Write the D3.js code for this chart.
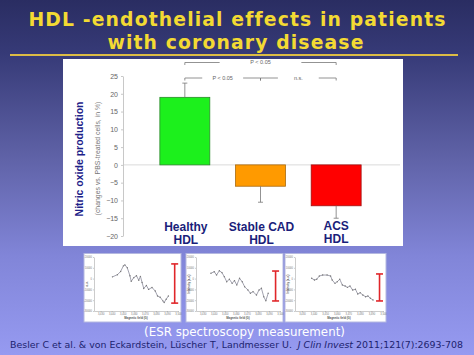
<!DOCTYPE html>
<html><head><meta charset="utf-8">
<script src="https://cdn.jsdelivr.net/npm/d3@7"></script>
<style>html,body{margin:0;padding:0;overflow:hidden;background:#3a3d7a}svg{display:block}</style>
</head><body>
<svg id="c" width="474" height="355"></svg>
<script>
// ---------- data ----------
const titleLines = ["HDL -endothelial effects in patients", "with coronary disease"];
const categories = ["Healthy HDL", "Stable CAD HDL", "ACS HDL"];
const categoryLines = [["Healthy", "HDL"], ["Stable CAD", "HDL"], ["ACS", "HDL"]];
const noProduction = [19, -6, -11.5];          // mean change vs PBS (%)
const noErrorEnd = [23, -10.5, -15];           // end of error bar
const yTicks = [25, 20, 15, 10, 5, 0, -5, -10, -15, -20];
const compFrom = [0, 0, 1];
const compTo = [2, 1, 2];
const compLabel = ["P < 0.05", "P < 0.05", "n.s."];
const compLevel = [1, 0, 0];
const yTitle = "Nitric oxide production";
const ySubTitle = "(changes vs. PBS-treated cells, in %)";

// ESR spectroscopy thumbnails (field in G, signal in thousands a.u.)
const esrField = [
  [3440.7,3445.2,3448.1,3450.6,3452,3454.1,3456.5,3457.7,3460,3462.4,3464.5,3466,3467.5,3469,3471.4,3473.4,3476.5,3479.4,3481.5,3483.9,3486.3,3487.5,3489.3,3491.3],
  [3437.5,3440.5,3442.6,3445.1,3447.5,3449.6,3451.8,3454.2,3456.7,3458.8,3460.9,3463.4,3465.8,3468,3471,3473.2,3475.6,3478.7,3481,3483.2,3485.3,3487.2,3489.3],
  [3438.4,3440.8,3442.8,3445,3447.9,3451.7,3454.7,3456.1,3458.5,3460.5,3462.6,3464.9,3467.3,3469.3,3471.5,3473.8,3476.2,3478.2,3480.3,3482.6,3485,3487,3489.1,3491.4]
];
const esrSignal = [
  [1.6,3.6,6.6,11.8,12.7,10.0,2.7,-2.5,0.9,2.7,-1.5,2.1,-3.6,-9.1,-6.4,-10.0,-8.2,-11.5,-16.1,-17.3,-20.6,-22.1,-19.1,-16.1],
  [4.9,6.4,3.3,7.3,5.5,1.8,-2.9,-0.6,-4.4,-1.9,-5.9,0.3,-2.9,-7.5,-10.6,-13.6,-12.1,-15.2,-10.6,-9.0,-16.8,-20.5,-13.6],
  [0.3,-1.3,-0.6,2.4,3.3,3.3,2.4,-1.3,-4.4,-2.9,-0.6,-5.9,-6.9,-8.1,-6.9,-10.6,-9.9,-14.3,-13.1,-15.2,-16.8,-16.1,-18.2,-19.8]
];
const esrAmpTop = [13.6, 7.0, 4.3];
const esrAmpBottom = [-22.7, -20.7, -20.7];
const esrAmpField = [3497, 3496, 3497];
const esrXTicks = [3430, 3440, 3450, 3460, 3470, 3480, 3490, 3500];
const esrYTicks = [20, 10, 0, -10, -20, -30];
const esrYLabel = ["a.u.", "Intensity (a.u.)", "Intensity (a.u.)"];
const esrXLabel = "Magnetic field (G)";
const caption = "(ESR spectroscopy measurement)";
const citeParts = [["Besler C et al. & von Eckardstein, Lüscher T, Landmesser U.  ", "normal"], ["J Clin Invest", "italic"], [" 2011;121(7):2693-708", "normal"]];

// ---------- drawing ----------
const svg = d3.select("#c");
const W = 474, H = 355;
const defs = svg.append("defs");
const bg = defs.append("linearGradient").attr("id", "bg").attr("x1", 0).attr("y1", 0).attr("x2", 0).attr("y2", 1);
[[0, "#2a2d62"], [0.15, "#363a77"], [0.45, "#6063a8"], [0.72, "#8185d8"], [1, "#969af1"]]
  .forEach(s => bg.append("stop").attr("offset", s[0]).attr("stop-color", s[1]));
svg.append("rect").attr("width", W).attr("height", H).attr("fill", "url(#bg)");

function fit(sel, target, base) {
  sel.style("font-size", base + "px");
  const w = sel.node().getComputedTextLength();
  const s = base * target / w;
  sel.style("font-size", s + "px");
  return s;
}

// title (slightly smaller font, letter-spaced to keep the reference width)
const titleSize = 18.8;
const t1 = svg.append("text").attr("x", 237.5).attr("y", 26.3).attr("text-anchor", "middle")
  .attr("fill", "#f3da33").style("font-family", "'DejaVu Sans', Verdana, sans-serif").style("font-weight", "bold")
  .style("font-size", titleSize + "px").text(titleLines[0]);
const n1 = titleLines[0].length;
const ls = (417 - t1.node().getComputedTextLength()) / n1;
t1.style("letter-spacing", ls + "px");
svg.append("text").attr("x", 236).attr("y", 48.6).attr("text-anchor", "middle")
  .attr("fill", "#f3da33").style("font-family", "'DejaVu Sans', Verdana, sans-serif").style("font-weight", "bold")
  .style("font-size", titleSize + "px").style("letter-spacing", ls + "px").text(titleLines[1]);
svg.append("line").attr("x1", 10).attr("x2", 458).attr("y1", 55).attr("y2", 55)
  .attr("stroke", "#dcbc45").attr("stroke-width", 2);

// main panel
svg.append("rect").attr("x", 63).attr("y", 59).attr("width", 340).attr("height", 187).attr("fill", "#fff");

const y = d3.scaleLinear().domain([-20, 25]).range([236, 76]);
const x = d3.scaleBand().domain(categories).range([147, 374]).paddingInner(0.34).paddingOuter(0.17);

// zero line
svg.append("line").attr("x1", 123).attr("x2", 400).attr("y1", y(0)).attr("y2", y(0))
  .attr("stroke", "#d0d0d0").attr("stroke-width", 0.8);

const yAxis = svg.append("g").attr("transform", "translate(123,0)")
  .call(d3.axisLeft(y).tickValues(yTicks).tickSize(2).tickSizeOuter(0).tickPadding(3));
yAxis.select(".domain").attr("stroke", "#c8c8c8");
yAxis.selectAll(".tick line").attr("stroke", "#c8c8c8");
yAxis.selectAll("text").attr("fill", "#666").style("font-family", "'Liberation Sans', Arial, sans-serif").style("font-size", "7px");

// y titles
svg.append("text").attr("transform", "translate(83,159) rotate(-90)").attr("text-anchor", "middle")
  .attr("fill", "#1c2188").style("font-family", "'Liberation Sans', Arial, sans-serif").style("font-weight", "bold")
  .style("font-size", "10.5px").text(yTitle);
svg.append("text").attr("transform", "translate(100,158.5) rotate(-90)").attr("text-anchor", "middle")
  .attr("fill", "#777").style("font-family", "'Liberation Sans', Arial, sans-serif")
  .style("font-size", "6.9px").text(ySubTitle);

// bars
const barFill = ["#1cf01c", "#ff9a00", "#ff0000"];
const barStroke = ["#2a8a2a", "#a86a10", "#a01010"];
const cx = i => x(categories[i]) + x.bandwidth() / 2;
svg.append("g").selectAll("rect").data(noProduction).join("rect")
  .attr("x", (d, i) => x(categories[i]))
  .attr("width", x.bandwidth())
  .attr("y", d => y(Math.max(0, d)))
  .attr("height", d => Math.abs(y(d) - y(0)))
  .attr("fill", (d, i) => barFill[i])
  .attr("stroke", (d, i) => barStroke[i]).attr("stroke-width", 0.8);

// error bars
const eg = svg.append("g").attr("stroke", "#777").attr("stroke-width", 0.8);
noProduction.forEach((d, i) => {
  eg.append("line").attr("x1", cx(i)).attr("x2", cx(i)).attr("y1", y(d)).attr("y2", y(noErrorEnd[i]));
  eg.append("line").attr("x1", cx(i) - 2.5).attr("x2", cx(i) + 2.5).attr("y1", y(noErrorEnd[i])).attr("y2", y(noErrorEnd[i]));
});

// significance brackets
const levelY = [78, 62.5];
const bg2 = svg.append("g");
compFrom.forEach((f, k) => {
  const xa = cx(f), xb = cx(compTo[k]), yy = levelY[compLevel[k]];
  const seg = (xb - xa) * 0.23;
  const g = bg2.append("g").attr("stroke", "#777").attr("stroke-width", 0.8).attr("fill", "none");
  g.append("path").attr("d", `M${xa},${yy + 2.5}V${yy}H${xa + seg}`);
  g.append("path").attr("d", `M${xb - seg},${yy}H${xb}V${yy + 2.5}`);
  bg2.append("text").attr("x", (xa + xb) / 2).attr("y", yy + 1.5).attr("text-anchor", "middle")
    .attr("fill", "#666").style("font-family", "'Liberation Sans', Arial, sans-serif").style("font-size", "5.5px")
    .text(compLabel[k]);
});

// category labels
categoryLines.forEach((lines, i) => {
  lines.forEach((s, j) => {
    svg.append("text").attr("x", cx(i) + (i === 2 ? 0 : 1)).attr("y", 231 + j * 12.8 - (i === 2 ? 1 : 0))
      .attr("text-anchor", "middle").attr("fill", "#1a1e7a")
      .style("font-family", "'Liberation Sans', Arial, sans-serif").style("font-weight", "bold").style("font-size", "12px")
      .text(s);
  });
});

// ESR thumbnails
const panels = [{ x: 84, w: 97 }, { x: 186, w: 97 }, { x: 285, w: 101 }];
panels.forEach((p, k) => {
  const g = svg.append("g");
  g.append("rect").attr("x", p.x).attr("y", 253.5).attr("width", p.w).attr("height", 68.5)
    .attr("fill", "#fff").attr("stroke", "#b4b8e0").attr("stroke-width", 1);
  const px = d3.scaleLinear().domain([3424, 3500]).range([p.x + 10, p.x + p.w - 3]);
  const py = d3.scaleLinear().domain([-30, 20]).range([311, 257]);
  const ax = g.append("g").attr("transform", "translate(0,311)")
    .call(d3.axisBottom(px).tickValues(esrXTicks).tickSize(1).tickSizeOuter(0).tickPadding(1));
  const ay = g.append("g").attr("transform", `translate(${p.x + 10},0)`)
    .call(d3.axisLeft(py).tickValues(esrYTicks).tickSize(1).tickSizeOuter(0).tickPadding(1).tickFormat(d => d * 1000));
  [ax, ay].forEach(a => {
    a.selectAll(".domain,.tick line").attr("stroke", "#999").attr("stroke-width", 0.5);
    a.selectAll("text").attr("fill", "#777").style("font-size", "2.6px").style("font-family", "'Liberation Sans', Arial, sans-serif");
  });
  g.append("text").attr("x", p.x + 10 + (p.w - 13) / 2).attr("y", 318.5).attr("text-anchor", "middle")
    .attr("fill", "#555").style("font-size", "2.8px").style("font-weight", "bold")
    .style("font-family", "'Liberation Sans', Arial, sans-serif").text(esrXLabel);
  g.append("text").attr("transform", `translate(${p.x + 4},284) rotate(-90)`).attr("text-anchor", "middle")
    .attr("fill", "#555").style("font-size", "2.8px").style("font-weight", "bold")
    .style("font-family", "'Liberation Sans', Arial, sans-serif").text(esrYLabel[k]);
  const pts = esrField[k].map((f, i) => [f, esrSignal[k][i]]);
  g.append("path").attr("d", d3.line().x(d => px(d[0])).y(d => py(d[1]))(pts))
    .attr("fill", "none").attr("stroke", "#8a8a9a").attr("stroke-width", 0.8);
  g.selectAll("circle").data(pts).join("circle").attr("cx", d => px(d[0])).attr("cy", d => py(d[1]))
    .attr("r", 0.7).attr("fill", "#777");
  const rx = px(esrAmpField[k]);
  const rg = g.append("g").attr("stroke", "#e0262a").attr("stroke-width", 1.6);
  rg.append("line").attr("x1", rx).attr("x2", rx).attr("y1", py(esrAmpTop[k])).attr("y2", py(esrAmpBottom[k]));
  rg.append("line").attr("x1", rx - 3.5).attr("x2", rx + 3.5).attr("y1", py(esrAmpTop[k])).attr("y2", py(esrAmpTop[k]));
  rg.append("line").attr("x1", rx - 3.5).attr("x2", rx + 3.5).attr("y1", py(esrAmpBottom[k])).attr("y2", py(esrAmpBottom[k]));
});

// caption
const cap = svg.append("text").attr("x", 244.5).attr("y", 335.5).attr("text-anchor", "middle")
  .attr("fill", "#ffffff").style("font-family", "'DejaVu Sans', Verdana, sans-serif").text(caption);
fit(cap, 201, 12);

// citation
const cite = svg.append("text").attr("x", 236.5).attr("y", 347.5).attr("text-anchor", "middle")
  .attr("fill", "#1c1f6e").style("font-family", "'DejaVu Sans', Verdana, sans-serif");
citeParts.forEach(p => cite.append("tspan").style("font-style", p[1]).text(p[0]));
cite.attr("xml:space", "preserve").style("white-space", "pre");
fit(cite, 453, 9.5);
</script>
</body></html>
